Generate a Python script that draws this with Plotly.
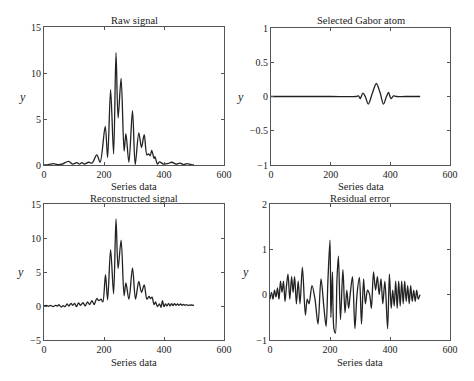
import plotly.graph_objects as go

# ---------------- data ----------------
raw_x = [0, 15, 32, 45, 60, 82, 95, 110, 118, 126, 135, 149, 160, 176, 187, 204, 212, 222, 232, 240,
         247, 257, 267, 273, 283, 295, 304, 316, 325, 334, 343, 348, 354, 359, 367, 370, 378, 385,
         398, 412, 426, 440, 454, 465, 476, 490, 500]
raw_y = [0, 0.05, 0.15, 0.05, 0.1, 0.4, 0.1, 0.25, 0.1, 0.25, 0.1, 0.3, 0.2, 1.1, 0.3, 4.2, 0.8, 8.2, 1.2, 12.2,
         5.1, 9.4, 1.5, 3.4, 0.3, 5.9, 0.05, 3.5, 1.9, 3.3, 1.1, 1.2, 1.0, 1.6, 0.7, 0.9, 0.1, 0.35,
         0.1, 0.15, 0.3, 0.1, 0.2, 0.05, 0.15, 0.05, 0.0]

atom_x = [0, 100, 200, 285, 293, 299, 308, 316, 326, 340, 353, 366, 377, 387, 394, 402, 411, 420, 450, 500]
atom_y = [0, 0, 0, 0, 0.01, -0.03, 0.05, 0.0, -0.11, 0.05, 0.19, 0.05, -0.11, 0.0, 0.06, -0.03, 0.01, 0, 0, 0]

rec_x = [0, 8, 15, 22, 30, 38, 45, 50, 57, 64, 70, 77, 83, 90, 96, 102, 108, 115, 122, 130, 137, 145,
         152, 160, 167, 176, 183, 190, 196, 205, 212, 222, 232, 240, 247, 257, 267, 273, 283, 295, 305,
         316, 325, 334, 343, 350, 355, 360, 367, 372, 378, 385, 390, 395, 400, 405, 410, 415, 420, 425,
         430, 435, 440, 445, 450, 455, 460, 465, 470, 475, 480, 490, 500]
rec_y = [0, 0.1, -0.05, 0.1, -0.1, 0.1, 0.0, 0.2, -0.15, 0.05, -0.1, 0.3, 0.0, 0.4, 0.1, 0.4, -0.1, 0.45,
         0.1, 0.5, 0.0, 0.6, 0.2, 0.8, 0.2, 1.1, 0.8, 1.0, 0.6, 4.6, 0.9, 8.3, 1.8, 12.8, 5.5, 9.7, 1.5,
         3.4, 1.0, 5.6, 1.0, 3.6, 2.0, 3.1, 1.0, 1.4, 1.1, 1.3, 0.2, 0.6, -0.1, 0.3, -0.2, 0.8, -0.1, 0.3,
         0.0, 0.4, 0.0, 0.35, 0.05, 0.35, 0.1, 0.3, 0.1, 0.3, 0.1, 0.25, 0.1, 0.2, 0.1, 0.15, 0.1]

res_x = [0, 5, 10, 15, 20, 25, 30, 35, 40, 45, 50, 55, 60, 66, 72, 77, 82, 88, 94, 100, 108, 118, 124,
         130, 140, 150, 160, 170, 180, 187, 193, 200, 203, 208, 213, 218, 223, 228, 235, 243, 250, 256,
         262, 268, 275, 283, 290, 298, 305, 312, 318, 325, 332, 338, 345, 352, 358, 364, 370, 376, 383,
         392, 398, 404, 409, 414, 419, 424, 429, 434, 439, 444, 449, 454, 459, 464, 469, 474, 479, 484,
         489, 494, 500]
res_y = [-0.1, 0.05, -0.1, 0.1, -0.05, 0.15, -0.1, 0.3, 0.05, 0.3, -0.15, 0.2, 0.45, -0.1, 0.4, 0.05,
         0.4, -0.2, 0.3, -0.2, 0.6, -0.45, -0.1, -0.2, 0.2, -0.1, -0.65, 0.35, -0.3, -0.7, 0.3, 1.2,
         -0.5, 0.5, -0.75, -0.85, 0.3, 0.85, -0.55, 0.55, -0.4, 0.1, -0.3, 0.05, 0.4, -0.75, 0.0, 0.38,
         -0.65, 0.35, -0.2, 0.1, 0.0, -0.3, 0.5, 0.1, 0.4, 0.0, 0.35, -0.2, 0.3, -0.75, 0.45, -0.3, 0.1,
         -0.25, 0.3, -0.3, 0.3, -0.25, 0.3, -0.2, 0.3, -0.15, 0.2, -0.2, 0.2, -0.15, 0.1, -0.15, 0.1,
         -0.1, 0.0]

titles = ["Raw signal", "Selected Gabor atom", "Reconstructed signal", "Residual error"]
x_ticks = [0, 200, 400, 600]
y_ticks_raw = [0, 5, 10, 15]
y_ticks_atom = [-1, -0.5, 0, 0.5, 1]
y_ticks_rec = [-5, 0, 5, 10, 15]
y_ticks_res = [-1, 0, 1, 2]

# ---------------- figure ----------------
W, H = 474, 381
FONT = "Liberation Serif"
LINE = "#222222"
AX = "#555555"

def px(x):
    return x / W

def py(y):
    return 1 - y / H

fig = go.Figure()
series = [(raw_x, raw_y), (atom_x, atom_y), (rec_x, rec_y), (res_x, res_y)]
for i, (xs, ys) in enumerate(series):
    ax = "" if i == 0 else str(i + 1)
    fig.add_trace(go.Scatter(x=xs, y=ys, mode="lines", xaxis="x" + ax, yaxis="y" + ax,
                             line=dict(color=LINE, width=1.3, shape="spline", smoothing=0.9),
                             showlegend=False, hoverinfo="skip"))

# plot rectangles in pixels (left, right, top, bottom)
boxes = [(44, 224, 27, 165), (271, 450, 28, 165), (44, 224, 204, 340), (270, 450, 204, 340)]
yranges = [[0, 15], [-1, 1], [-5, 15], [-1, 2]]
yticks = [y_ticks_raw, y_ticks_atom, y_ticks_rec, y_ticks_res]
ytext = [[str(v) for v in y_ticks_raw],
         ["\u22121", "\u22120.5", "0", "0.5", "1"],
         ["\u22125", "0", "5", "10", "15"],
         ["\u22121", "0", "1", "2"]]

axis_common = dict(showline=True, linecolor=AX, linewidth=1, mirror="ticks", ticks="inside",
                   ticklen=3, tickcolor=AX, showgrid=False, zeroline=False, automargin=False,
                   tickfont=dict(family=FONT, size=10, color="#222"))

layout = {}
for i, (l, r, t, b) in enumerate(boxes):
    ax = "" if i == 0 else str(i + 1)
    layout["xaxis" + ax] = dict(domain=[px(l), px(r)], range=[0, 600], tickvals=x_ticks,
                                anchor="y" + ax, **axis_common)
    layout["yaxis" + ax] = dict(domain=[py(b), py(t)], range=yranges[i], tickvals=yticks[i],
                                ticktext=ytext[i], anchor="x" + ax, **axis_common)

title_y = [20, 20, 198, 198]
xlab_y = [186, 186, 362, 362]
annotations = []
for i, (l, r, t, b) in enumerate(boxes):
    cx = (l + r) / 2
    annotations.append(dict(text=titles[i], x=px(cx), y=py(title_y[i]), xref="paper", yref="paper",
                            xanchor="center", yanchor="middle", showarrow=False, borderpad=0,
                            font=dict(family=FONT, size=10.5, color="#222")))
    annotations.append(dict(text="Series data", x=px(cx), y=py(xlab_y[i]), xref="paper", yref="paper",
                            xanchor="center", yanchor="middle", showarrow=False, borderpad=0,
                            font=dict(family=FONT, size=10.5, color="#222")))
ylab_pos = [(22, 97), (240, 97), (20, 272), (245, 272)]
for (x, y) in ylab_pos:
    annotations.append(dict(text="<i>y</i>", x=px(x), y=py(y), xref="paper", yref="paper",
                            xanchor="center", yanchor="middle", showarrow=False,
                            font=dict(family=FONT, size=12, color="#222")))

fig.update_layout(width=W, height=H, margin=dict(l=0, r=0, t=0, b=0),
                  paper_bgcolor="white", plot_bgcolor="white", annotations=annotations, **layout)

fig.write_html("out.html", config={"displayModeBar": False},
               post_script="document.body.style.margin='0px';")
